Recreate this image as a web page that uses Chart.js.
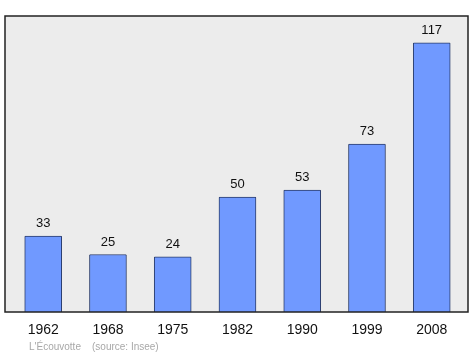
<!DOCTYPE html>
<html><head><meta charset="utf-8">
<script src="https://cdn.jsdelivr.net/npm/chart.js@4/dist/chart.umd.min.js"></script>
<style>html,body{margin:0;padding:0;background:#fff}#wrap{width:474px;height:354px}</style>
</head><body><div id="wrap"><canvas id="c" width="474" height="354"></canvas></div>
<script>
const years = ["1962","1968","1975","1982","1990","1999","2008"];
const population = [33,25,24,50,53,73,117];
const footerPlace = "L'Écouvotte";
const footerSource = "(source: Insee)";

const FONT = "'Liberation Sans', Arial, sans-serif";

const boxPlugin = {
  id: 'box',
  beforeDatasetsDraw(chart) {
    const {ctx, chartArea: a} = chart;
    ctx.save();
    ctx.fillStyle = '#ececec';
    ctx.fillRect(a.left, a.top, a.right - a.left, a.bottom - a.top);
    ctx.restore();
  },
  afterDatasetsDraw(chart) {
    const {ctx, chartArea: a} = chart;
    ctx.save();
    ctx.strokeStyle = '#222';
    ctx.lineWidth = 1.5;
    ctx.strokeRect(a.left, a.top, a.right - a.left, a.bottom - a.top);
    const meta = chart.getDatasetMeta(0);
    ctx.fillStyle = '#111';
    ctx.font = '13px ' + FONT;
    ctx.textAlign = 'center';
    ctx.textBaseline = 'alphabetic';
    meta.data.forEach((el, i) => {
      ctx.fillText(String(population[i]), el.x, el.y - 9);
    });
    ctx.fillStyle = '#a8a8a8';
    ctx.font = '10px ' + FONT;
    ctx.textAlign = 'left';
    ctx.fillText(footerPlace, 29, 350);
    ctx.fillText(footerSource, 92, 350);
    ctx.restore();
  }
};

new Chart(document.getElementById('c'), {
  type: 'bar',
  data: {
    datasets: [{
      data: population.map((v, i) => ({x: i, y: v})),
      backgroundColor: '#7099ff',
      borderColor: '#2b3d6b',
      borderWidth: 1,
      borderSkipped: 'bottom',
      borderRadius: 1,
      barThickness: 37
    }]
  },
  options: {
    responsive: false,
    animation: false,
    layout: {padding: {left: 5, right: 6, top: 16, bottom: 0}},
    plugins: {legend: {display: false}, tooltip: {enabled: false}},
    scales: {
      x: {
        type: 'linear',
        offset: false,
        min: -0.59,
        max: 6.56,
        afterBuildTicks(scale) { scale.ticks = years.map((_, i) => ({value: i})); },
        grid: {display: false, drawTicks: false, offset: false},
        border: {display: false},
        ticks: {
          autoSkip: false,
          maxRotation: 0,
          padding: 10,
          color: '#111',
          font: {family: FONT, size: 14},
          callback: (v) => years[v] !== undefined ? years[v] : ''
        },
        afterFit(scale) { scale.height = 42; }
      },
      y: {
        display: false,
        min: 0,
        max: 128.7
      }
    }
  },
  plugins: [boxPlugin]
});
</script>
</body></html>
